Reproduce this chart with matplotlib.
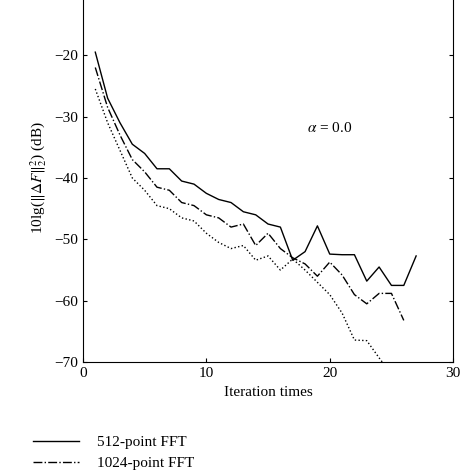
import matplotlib
matplotlib.use("Agg")
import matplotlib.pyplot as plt

plt.rcParams['font.family'] = ['Liberation Serif', 'DejaVu Serif']
plt.rcParams['mathtext.fontset'] = 'stix'

x512 = list(range(1, 28))
y512 = [-19.5, -27, -31, -34.5, -36, -38.5, -38.5, -40.5, -41, -42.5, -43.5, -44, -45.5, -46, -47.5,
        -48, -53.4, -52, -47.8, -52.4, -52.5, -52.5, -56.8, -54.5, -57.5, -57.5, -52.7]
x1024 = list(range(1, 27))
y1024 = [-22, -28.5, -33, -37, -39, -41.5, -42, -44, -44.5, -46, -46.5, -48, -47.5, -51, -49,
         -51.5, -53, -54, -56, -53.7, -55.8, -59, -60.5, -58.8, -58.8, -63.2]
x2048 = list(range(1, 26))
y2048 = [-25.5, -31, -35.5, -40, -42, -44.5, -45, -46.5, -47, -49, -50.5, -51.5, -51, -53.4, -52.7,
         -55, -53.2, -55, -57, -59, -62, -66.4, -66.5, -69.3, -72]

fig = plt.figure(figsize=(4.74, 4.74), dpi=100)
ax = fig.add_axes([0.175, 0.236, 0.781, 0.777])
l1, = ax.plot(x512, y512, 'k-', lw=1.0)
l2, = ax.plot(x1024, y1024, 'k-.', lw=1.0)
ax.plot(x2048, y2048, 'k:', lw=1.0)
ax.set_xlim(0, 30)
ax.set_ylim(-70, -10)
ax.set_xticks([0, 10, 20, 30])
ax.set_yticks([-70, -60, -50, -40, -30, -20])
ax.tick_params(direction='in', right=True, top=True, labelsize=11, length=3)
ax.set_xlabel('Iteration times', fontsize=11)
ax.set_ylabel(r'10lg($\|\Delta F\|_2^2$) (dB)', fontsize=11)
ax.text(20, -32.5, r'$\alpha$ = 0.0', fontsize=11, ha='center')
fig.legend([l1, l2], ['512-point FFT', '1024-point FFT'], loc='upper left',
           bbox_to_anchor=(0.04, 0.11), frameon=False, fontsize=11,
           handlelength=3, handletextpad=1.2, labelspacing=0.45)
fig.savefig('out.png', dpi=100)
